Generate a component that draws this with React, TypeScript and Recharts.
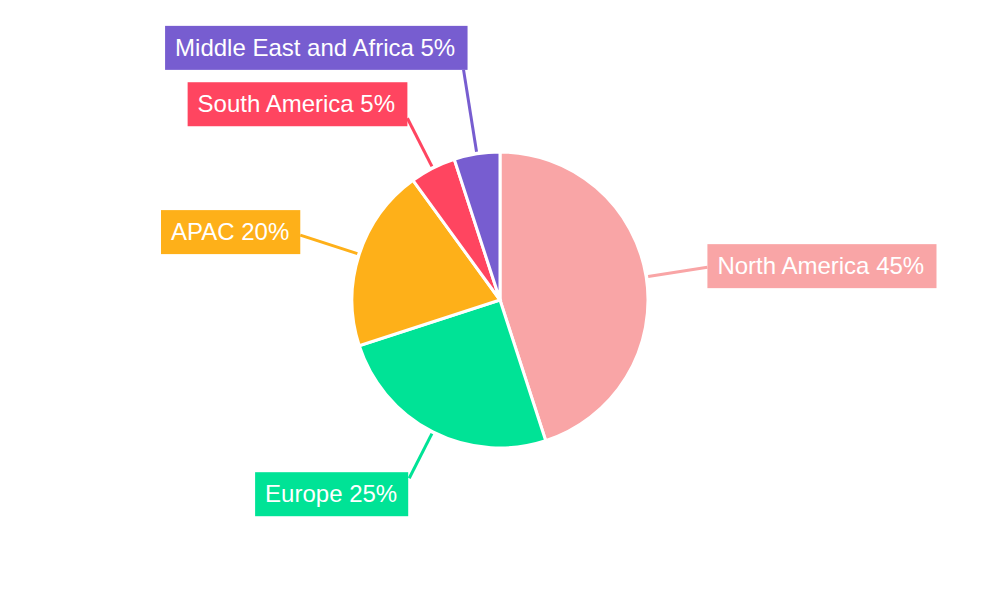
import { PieChart, Pie, Cell } from 'recharts';

if (typeof document !== 'undefined') {
    document.body.style.margin = '0';
}

const regions = ['North America', 'Europe', 'APAC', 'South America', 'Middle East and Africa'];
const shares = [45, 25, 20, 5, 5];
const colors = ['#F9A5A6', '#00E396', '#FEB019', '#FF4560', '#775DD0'];

// label placement tweaks (per slice, in slice order)
const labelRadius = [210, 200, 210, 204, 233];
const labelShiftX = [0, -1, 0, 0, 4];
const labelShiftY = [-1, 16, -3, -14, -22];

const data = regions.map((name, i) => ({ name, value: shares[i] }));

const FONT = "24px 'Liberation Sans', Arial, sans-serif";
const RADIAN = Math.PI / 180;

let ctx: CanvasRenderingContext2D | null = null;
const measure = (text: string) => {
    if (!ctx) ctx = document.createElement('canvas').getContext('2d');
    if (!ctx) return text.length * 13;
    ctx.font = FONT;
    return ctx.measureText(text).width;
};

const renderLabel = (props: any) => {
    const { cx, cy, midAngle, outerRadius, index } = props;
    const cos = Math.cos(-midAngle * RADIAN);
    const sin = Math.sin(-midAngle * RADIAN);
    const sx = cx + (outerRadius + 2) * cos;
    const sy = cy + (outerRadius + 2) * sin;
    const ex = cx + labelRadius[index] * cos;
    const ey = cy + labelRadius[index] * sin;
    const text = `${regions[index]} ${shares[index]}%`;
    const w = measure(text) + 21;
    const h = 44;
    const right = cos >= 0;
    const bx = right ? ex + labelShiftX[index] : ex + labelShiftX[index] - w;
    const by = ey + labelShiftY[index] - h / 2;
    return (
        <g key={`label-${index}`}>
            <line x1={sx} y1={sy} x2={ex} y2={ey} stroke={colors[index]} strokeWidth={3} />
            <rect x={bx} y={by} width={w} height={h} fill={colors[index]} />
            <text
                x={bx + 10}
                y={by + 30}
                fill="#ffffff"
                style={{ font: FONT }}
                textAnchor="start"
            >
                {text}
            </text>
        </g>
    );
};

const App = () => {
    return (
        <div style={{ width: 1000, height: 600, background: '#ffffff' }}>
            <PieChart width={1000} height={600} margin={{ top: 0, right: 0, bottom: 0, left: 0 }}>
                <Pie
                    data={data}
                    dataKey="value"
                    nameKey="name"
                    cx={500}
                    cy={300}
                    outerRadius={148}
                    startAngle={90}
                    endAngle={-270}
                    stroke="#ffffff"
                    strokeWidth={3}
                    labelLine={false}
                    label={renderLabel}
                    isAnimationActive={false}
                >
                    {data.map((entry, index) => (
                        <Cell key={`cell-${entry.name}`} fill={colors[index]} />
                    ))}
                </Pie>
            </PieChart>
        </div>
    );
};

export default App;
